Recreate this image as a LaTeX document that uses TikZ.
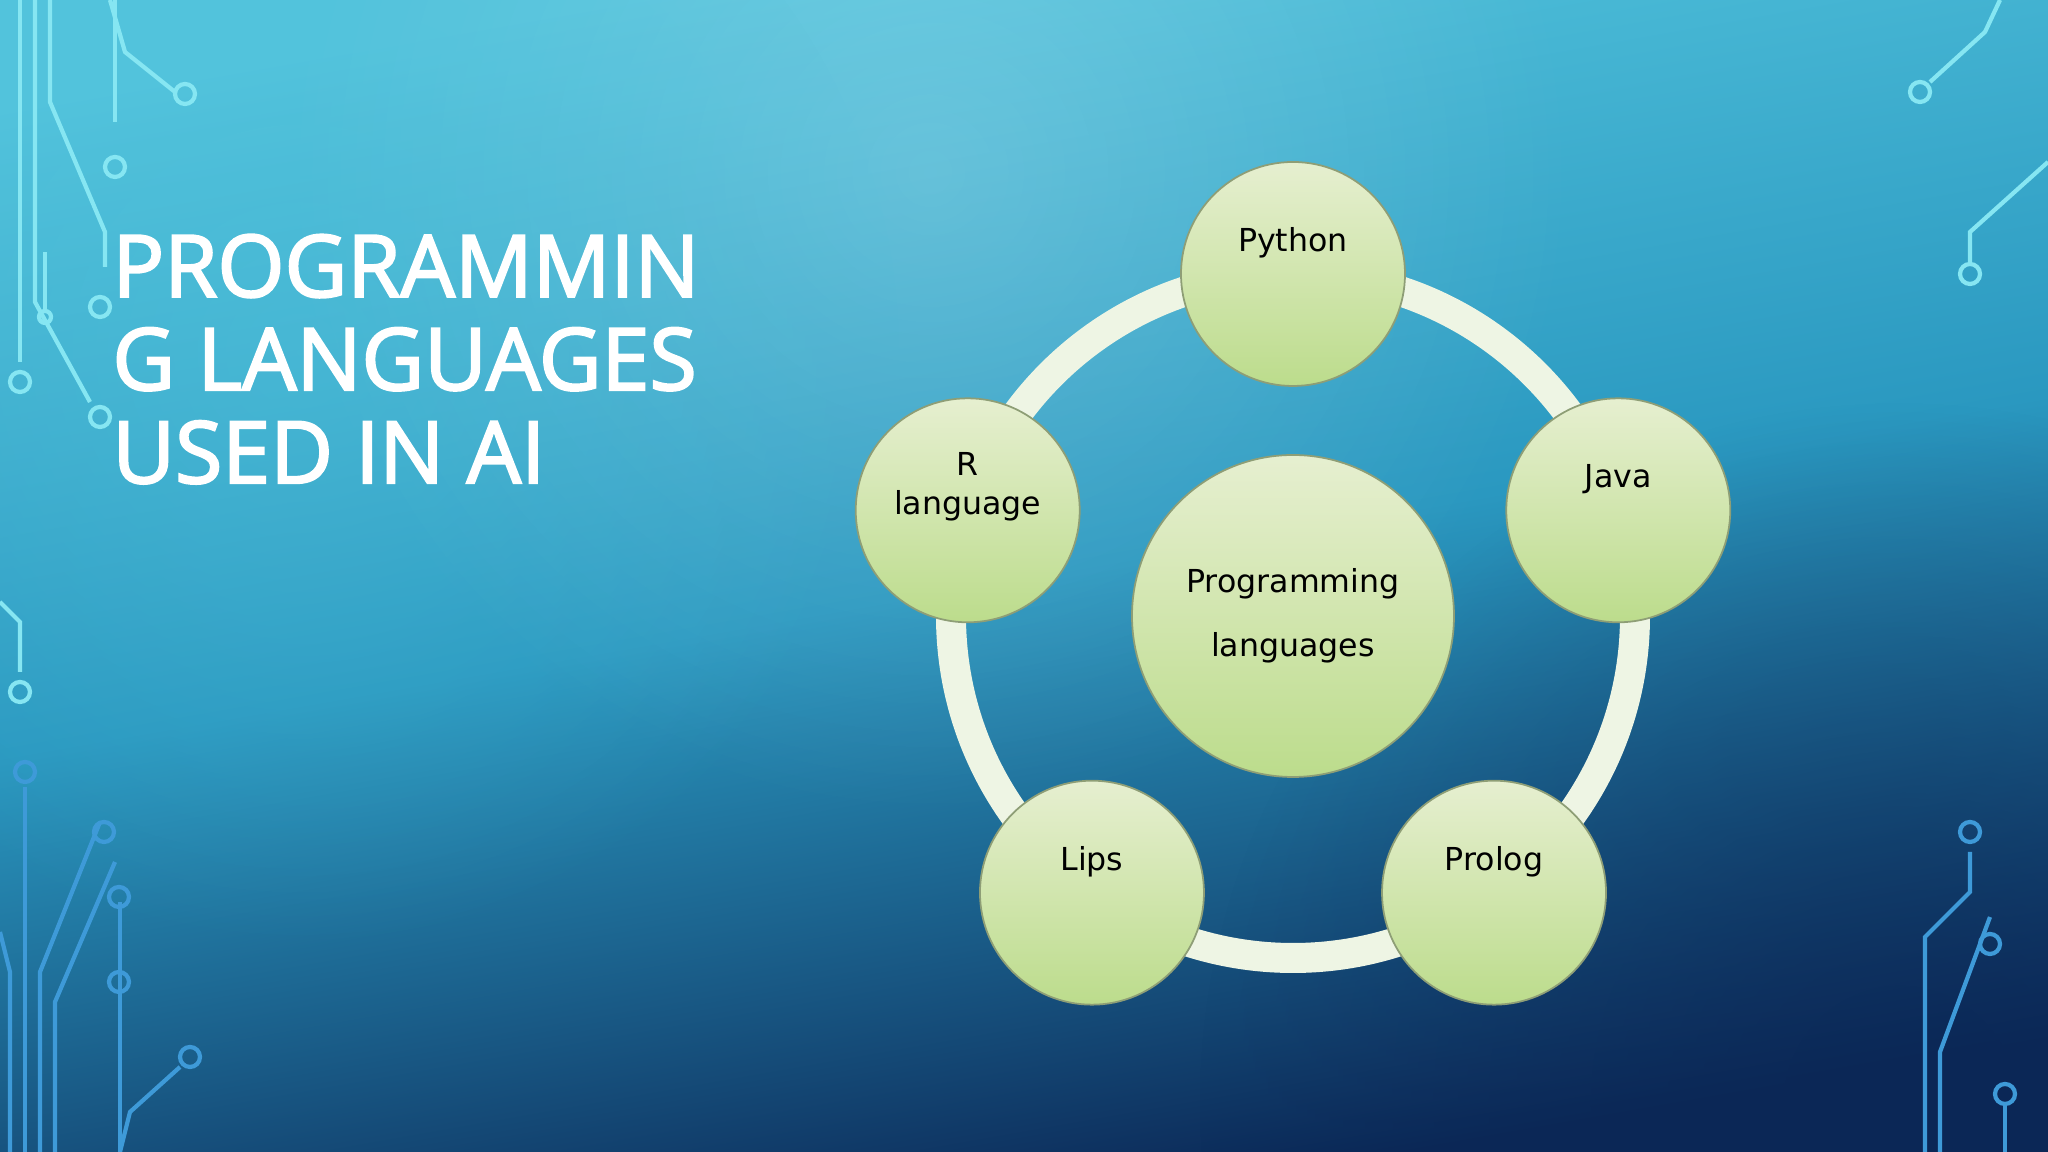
\documentclass[tikz,border=0pt]{standalone}
\usepackage{fontspec}
\setmainfont{DejaVu Sans}
\newfontfamily\titlefont{Open Sans}[FakeBold=2.5]
\usetikzlibrary{fadings,calc}
\tikzfading[name=myfade, inner color=transparent!0, outer color=transparent!100]
\definecolor{bgtop}{HTML}{52C3DC}
\definecolor{bgmid}{HTML}{2A98C0}
\definecolor{bgbot}{HTML}{0B2756}
\definecolor{ringc}{HTML}{EEF5E4}
\definecolor{ntop}{HTML}{E6EFD0}
\definecolor{nbot}{HTML}{BCDC8C}
\definecolor{nbd}{HTML}{8E9E76}
\definecolor{circA}{HTML}{86E6F2}
\definecolor{circB}{HTML}{3E9AD8}
\tikzset{
 lang/.style={circle,minimum size=2.24cm,draw=nbd,line width=0.5pt,top color=ntop,bottom color=nbot,font=\fontsize{9}{11}\selectfont,align=center,text=black},
 ctr/.style={lang,minimum size=3.22cm},
 trace/.style={line width=1.2pt},
 pad/.style={line width=1.2pt,radius=0.1}
}
\begin{document}
\begin{tikzpicture}
\useasboundingbox (0,0) rectangle (20.48,11.52);
\shade[top color=bgtop,bottom color=bgbot,middle color=bgmid,shading angle=10] (0,0) rectangle (20.48,11.52);
\begin{scope}
\clip (0,0) rectangle (20.48,11.52);
\fill[white,opacity=0.18,path fading=myfade] (9.3,9.8) circle (6.5);
\fill[bgtop,opacity=0.4,path fading=myfade] (3,8) circle (6);
\fill[bgbot,opacity=0.6,path fading=myfade] (19,0.5) circle (7);
\end{scope}
% circuit traces top-left
\begin{scope}[circA]
\draw[trace] (0.2,11.52) -- (0.2,7.9); \draw[pad] (0.2,7.7) circle;
\draw[trace] (0.35,11.52) -- (0.35,8.5) -- (0.9,7.5); \draw[pad] (1.0,7.35) circle;
\draw[trace] (0.5,11.52) -- (0.5,10.5) -- (1.05,9.2) -- (1.05,8.85); \draw[pad] (1.0,8.45) circle;
\draw[trace] (1.15,11.52) -- (1.15,10.3); \draw[pad] (1.15,9.85) circle;
\draw[trace] (1.1,11.52) -- (1.25,11.0) -- (1.75,10.6); \draw[pad] (1.85,10.58) circle;
\draw[trace] (0.45,9.0) -- (0.45,8.4); \draw[pad] (0.45,8.35) circle[radius=0.06];
\draw[trace] (0.0,5.5) -- (0.2,5.3) -- (0.2,4.8); \draw[pad] (0.2,4.6) circle;
% top-right
\draw[trace] (20.0,11.52) -- (19.85,11.2) -- (19.3,10.7); \draw[pad] (19.2,10.6) circle;
\draw[trace] (20.48,9.9) -- (19.7,9.2) -- (19.7,8.9); \draw[pad] (19.7,8.78) circle;
\end{scope}
\begin{scope}[circB]
\draw[trace] (0.25,0) -- (0.25,3.65); \draw[pad] (0.25,3.8) circle;
\draw[trace] (0,2.2) -- (0.1,1.8) -- (0.1,0);
\draw[trace] (0.4,0) -- (0.4,1.8) -- (1.0,3.3); \draw[pad] (1.04,3.2) circle;
\draw[trace] (0.55,0) -- (0.55,1.5) -- (1.15,2.9); \draw[pad] (1.19,2.55) circle;
\draw[trace] (1.2,0) -- (1.2,2.5); \draw[pad] (1.19,1.7) circle;
\draw[trace] (1.2,0) -- (1.3,0.4) -- (1.8,0.85); \draw[pad] (1.9,0.95) circle;
\draw[trace] (19.7,3.0) -- (19.7,2.6) -- (19.25,2.15) -- (19.25,0); \draw[pad] (19.7,3.2) circle;
\draw[trace] (19.9,2.35) -- (19.4,1.0) -- (19.4,0); \draw[pad] (19.9,2.08) circle;
\draw[trace] (20.05,0) -- (20.05,0.5); \draw[pad] (20.05,0.58) circle;
\end{scope}
% title
\node[anchor=north west,text=white,align=left,font=\titlefont\fontsize{24.5}{26.5}\selectfont] (title) at (1.0,9.3) {PROGRAMMIN\\G LANGUAGES\\USED IN AI};
% ring
\coordinate (c) at (12.93,5.36);
\draw[ringc,line width=0.3cm] (c) circle (3.42);
\node[ctr] (center) at (c) {Programming\\[0.25cm]languages};
\node[lang] (py) at ($(c)+(90:3.42)$) {Python\\[0.3cm]};
\node[lang] (java) at ($(c)+(18:3.42)$) {Java\\[0.3cm]};
\node[lang] (prolog) at ($(c)+(-54:3.42)$) {Prolog\\[0.3cm]};
\node[lang] (lips) at ($(c)+(-126:3.42)$) {Lips\\[0.3cm]};
\node[lang] (r) at ($(c)+(162:3.42)$) {R\\language\\[0.15cm]};
\end{tikzpicture}
\end{document}
